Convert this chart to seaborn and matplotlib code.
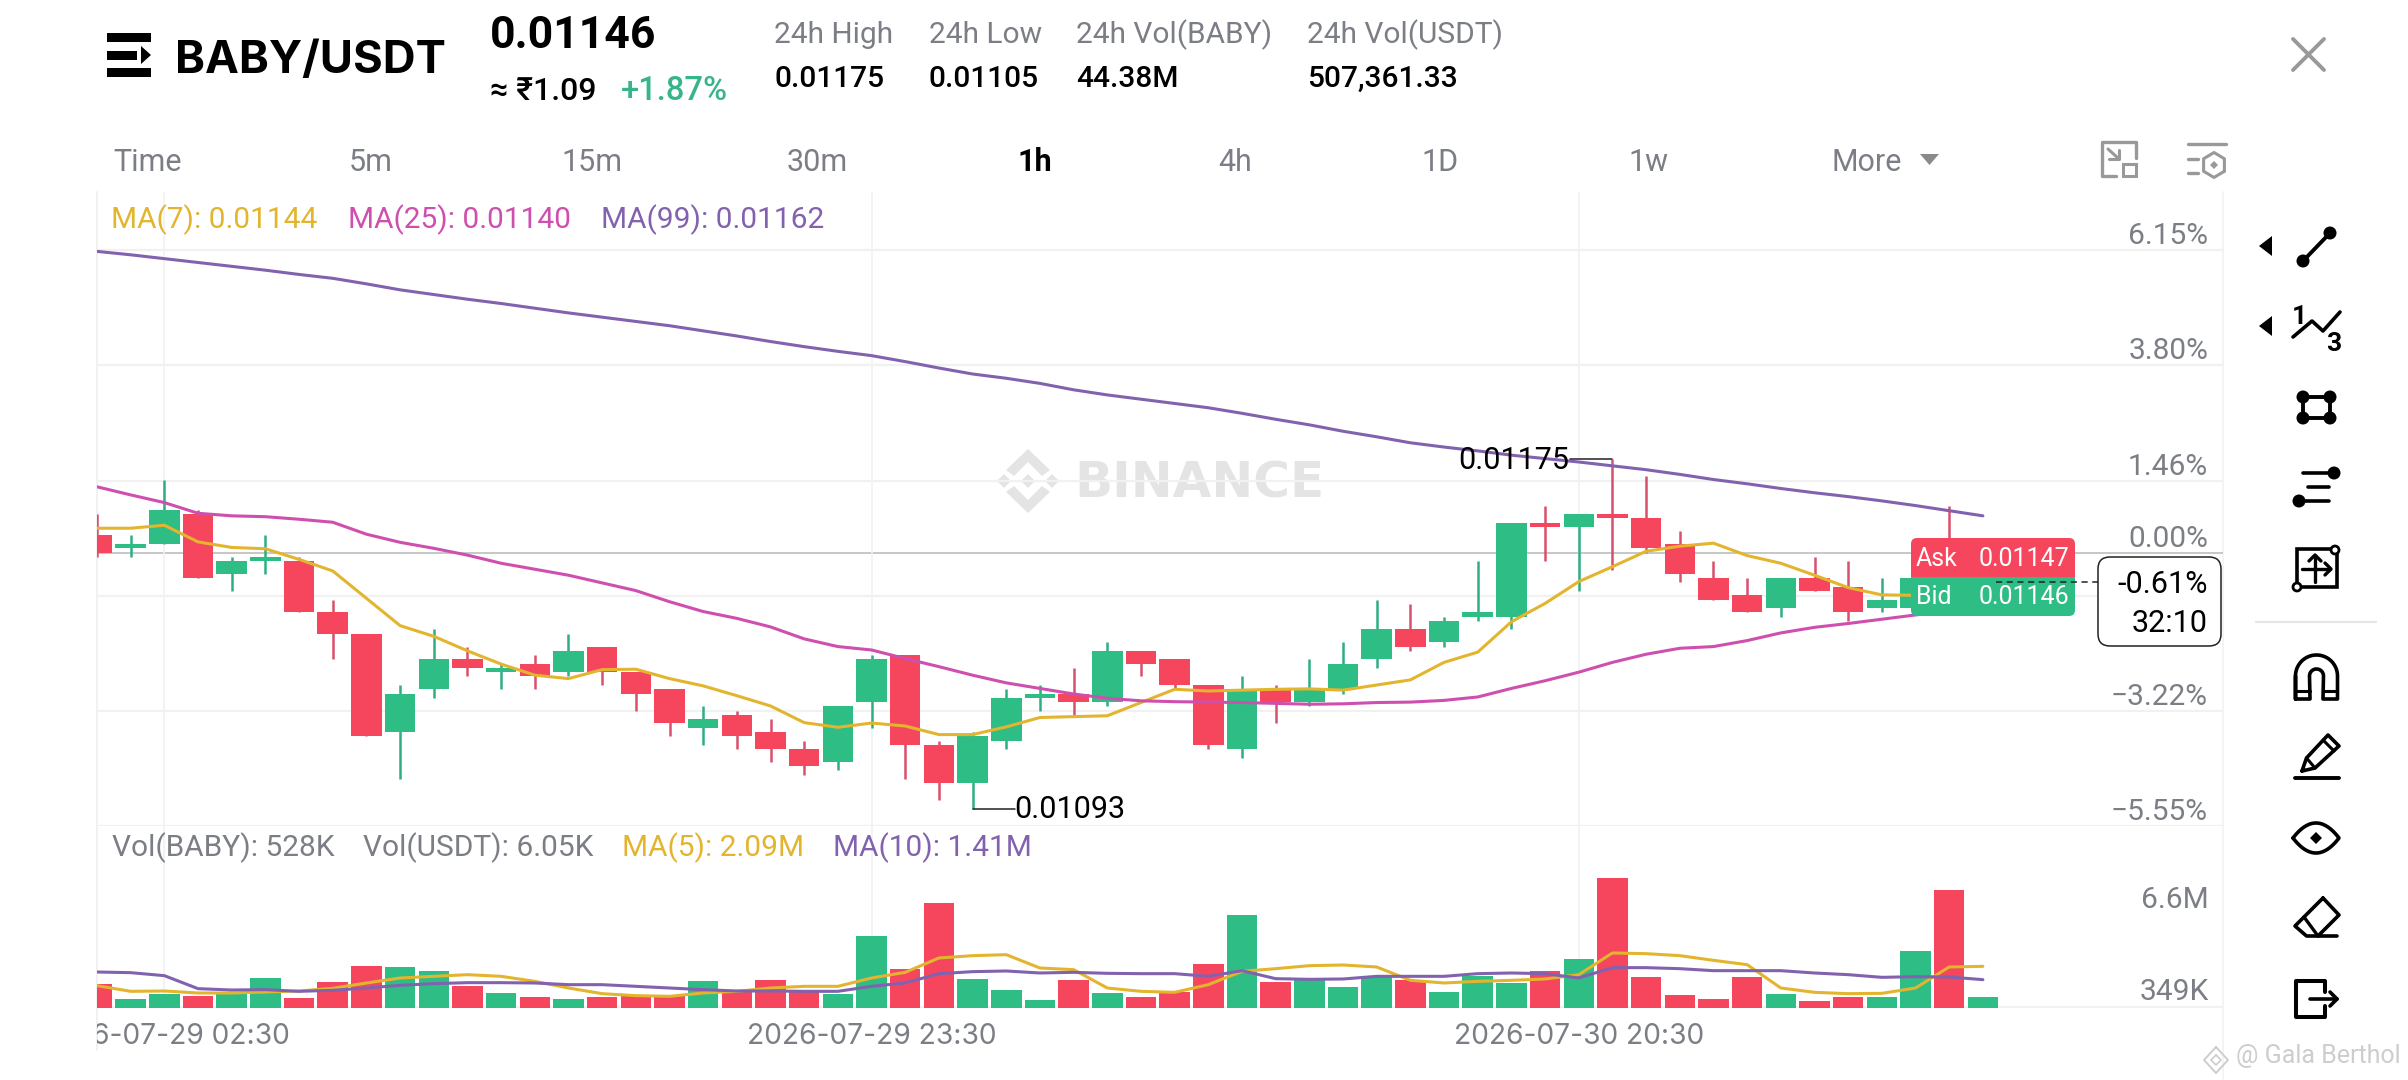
import numpy as np
import pandas as pd
import matplotlib
matplotlib.use("Agg")
import matplotlib.pyplot as plt
import seaborn as sns
from matplotlib.patches import FancyBboxPatch, Polygon, Rectangle, Circle
from matplotlib.transforms import Bbox, TransformedBbox

# ---------- data (prices in units of 0.00001 USDT, volumes in thousands) ----------
opens = [1157,1154,1155,1162,1148,1151,1151,1139,1134,1111,1121,1128,1125,1127,1125,1131,1125,1121,1112,1115,1111,1107,1104,1118,1129,1108,1099,1109,1119,1120,1118,1130,1128,1122,1107,1121,1118,1121,1128,1135,1132,1138,1138,1160,1159,1162,1161,1155,1147,1143,1140,1147,1145,1140,1140,1147,1144]
closes = [1153,1155,1163,1147,1151,1152,1139,1134,1110,1120,1128,1126,1126,1124,1130,1125,1120,1113,1114,1110,1107,1103,1117,1128,1108,1099,1110,1119,1120,1118,1130,1127,1122,1108,1121,1118,1121,1127,1135,1131,1137,1139,1160,1159,1162,1161,1154,1148,1142,1139,1147,1144,1139,1142,1147,1145,1146]
highs = [1162,1157,1170,1163,1152,1157,1152,1142,1134,1122,1135,1131,1127,1129,1134,1131,1125,1121,1117,1116,1114,1109,1117,1129,1129,1109,1111,1121,1122,1126,1132,1130,1128,1122,1124,1122,1128,1132,1142,1141,1138,1151,1160,1164,1162,1175,1171,1158,1151,1147,1147,1152,1151,1147,1147,1164,1146]
lows = [1152,1152,1155,1147,1144,1148,1139,1128,1110,1100,1119,1124,1121,1121,1124,1122,1116,1110,1108,1107,1104,1101,1102,1112,1100,1095,1093,1107,1116,1115,1117,1124,1121,1107,1105,1113,1117,1120,1126,1130,1131,1137,1135,1151,1144,1149,1153,1146,1142,1139,1138,1144,1137,1139,1139,1144,1144]
ma7 = [1158.7,1158.7,1159.4,1155.5,1154.2,1153.9,1151.4,1148.7,1142.3,1135.9,1133.4,1130.0,1126.9,1124.3,1123.5,1125.6,1125.7,1123.5,1121.8,1119.5,1117.1,1113.2,1112.1,1113.1,1112.4,1110.4,1110.4,1112.2,1114.4,1114.6,1114.8,1117.9,1121.0,1120.6,1120.8,1121.0,1121.1,1120.8,1122.0,1123.2,1127.3,1129.7,1136.8,1141.1,1146.2,1149.7,1153.3,1154.5,1155.2,1152.3,1150.5,1147.7,1144.8,1143.1,1143.0,1143.3,1144.0]
ma25 = [1168.4,1166.5,1164.7,1162.2,1161.6,1161.4,1160.8,1160.1,1157.3,1155.4,1154.0,1152.4,1150.5,1149.1,1147.7,1145.9,1144.1,1141.5,1139.2,1137.6,1135.6,1132.8,1131.0,1130.2,1128.2,1126.3,1124.3,1122.5,1121.2,1119.9,1118.9,1118.3,1118.1,1118.0,1117.9,1117.7,1117.5,1117.6,1117.9,1118.0,1118.4,1119.2,1121.2,1123.0,1125.0,1127.3,1129.2,1130.6,1131.0,1132.4,1134.2,1135.5,1136.4,1137.4,1138.4,1139.2,1140.0]
ma99 = [1223.5,1222.7,1221.8,1220.9,1220.0,1219.1,1218.1,1217.2,1215.9,1214.5,1213.4,1212.3,1211.3,1210.2,1209.1,1208.1,1207.1,1206.1,1204.9,1203.7,1202.4,1201.2,1200.1,1199.1,1197.7,1196.2,1194.8,1193.8,1192.6,1191.1,1189.9,1188.9,1187.9,1186.9,1185.6,1184.2,1182.9,1181.4,1180.1,1178.7,1177.7,1176.8,1175.8,1175.0,1174.2,1173.3,1172.4,1171.3,1170.1,1169.1,1168.0,1167.0,1166.1,1165.1,1164.0,1162.8,1161.6]
volumes = [1205,446,710,611,693,1485,512,1271,2063,2013,1815,1073,743,561,462,528,611,611,1353,776,1386,875,693,3548,1914,5214,1452,908,396,1403,759,561,809,2195,4604,1271,1403,1040,1568,1403,776,1601,1238,1832,2426,6452,1535,627,462,1518,693,363,528,528,2838,5825,528]
vol_ma5 = [1106,825,842,743,743,792,842,974,1238,1485,1568,1650,1568,1320,990,710,611,578,743,825,990,1073,1073,1485,1766,2475,2591,2640,1980,1898,990,825,776,1155,1815,1947,2096,2129,2030,1370,1238,1320,1370,1436,1650,2723,2690,2591,2360,2145,990,776,710,726,990,2030,2063]
vol_ma10 = [1782,1749,1601,957,891,908,825,875,990,1122,1205,1254,1254,1238,1155,1155,1073,990,908,842,842,825,825,1073,1238,1700,1799,1832,1733,1766,1716,1700,1700,1568,1848,1452,1419,1436,1568,1568,1568,1700,1733,1700,1485,1997,1997,1947,1848,1848,1848,1733,1650,1518,1551,1535,1403]
pct_ticks = [6.15, 3.80, 1.46, -0.88, -3.22, -5.55]
pct_labels = ["6.15%", "3.80%", "1.46%", "", "\u22123.22%", "\u22125.55%"]
pct_base = 1153
date_idx = [2, 23, 44]
date_labels = ["2026-07-29 02:30", "2026-07-29 23:30", "2026-07-30 20:30"]
high_label, low_label = "0.01175", "0.01093"
high_idx, low_idx = 45, 26
header_stats = [("24h High", "0.01175"), ("24h Low", "0.01105"), ("24h Vol(BABY)", "44.38M"), ("24h Vol(USDT)", "507,361.33")]
tabs = ["Time", "5m", "15m", "30m", "1h", "4h", "1D", "1w", "More"]

GREEN, RED = "#2EBD85", "#F6465D"
YEL, MAG, PUR = "#E3B52E", "#CE4FAE", "#8262AE"
GREY = "#7B7F85"
GRID = "#F1F1F1"

sns.set_theme(style="white")
plt.rcParams["font.family"] = ["Roboto", "Inter", "DejaVu Sans"]

W, H = 2408, 1080
fig = plt.figure(figsize=(W / 100, H / 100), dpi=100, facecolor="white")

def rect_px(x0, y0, x1, y1):
    return [x0 / W, 1 - y1 / H, (x1 - x0) / W, (y1 - y0) / H]

X0, X1 = 97, 2223
Y0, YM, YB = 192, 826, 1008
bg = fig.add_axes([0, 0, 1, 1], zorder=0)
ax = fig.add_axes(rect_px(X0, Y0, X1, YM), zorder=1)
axv = fig.add_axes(rect_px(X0, YM, X1, YB), zorder=1)
ov = fig.add_axes([0, 0, 1, 1], zorder=3)
for a in (bg, ov):
    a.set_xlim(0, W)
    a.set_ylim(H, 0)
    a.axis("off")
    a.patch.set_alpha(0)
for a in (ax, axv):
    a.patch.set_alpha(0)
    for s in a.spines.values():
        s.set_visible(False)

idx = np.arange(len(closes))
XLIM = (0, 63.13)

# ---------- background: watermark and frame ----------
WM = "#E4E4E4"
cx, cy = 1028, 481
for dx, dy, r in [(0, 0, 7), (-24, 0, 7), (24, 0, 7)]:
    bg.add_patch(Polygon([(cx + dx - r, cy + dy), (cx + dx, cy + dy - r), (cx + dx + r, cy + dy), (cx + dx, cy + dy + r)], fc=WM, ec="none"))
bg.add_patch(Polygon([(cx, cy - 32), (cx + 22, cy - 11), (cx + 14, cy - 5), (cx, cy - 19), (cx - 14, cy - 5), (cx - 22, cy - 11)], fc=WM, ec="none"))
bg.add_patch(Polygon([(cx, cy + 32), (cx + 22, cy + 11), (cx + 14, cy + 5), (cx, cy + 19), (cx - 14, cy + 5), (cx - 22, cy + 11)], fc=WM, ec="none"))
bg.text(1074, 498, "BINANCE", fontsize=36, fontweight="bold", color=WM, va="baseline", ha="left", family="DejaVu Sans")
bg.plot([X0, X0], [Y0, 1050], color=GRID, lw=1.4)
bg.plot([X1, X1], [Y0, H], color="#F4F4F4", lw=1.4)

# ---------- price pane ----------
for t in pct_ticks:
    ax.axhline(pct_base * (1 + t / 100), color=GRID, lw=1.6, zorder=1)
ax.axhline(pct_base, color="#BEBEBE", lw=1.2, zorder=1)
for i in date_idx:
    ax.axvline(i, color=GRID, lw=1.2, zorder=1)
    axv.axvline(i, color=GRID, lw=1.2, zorder=1)

up = np.array(closes) >= np.array(opens)
cols = [GREEN if u else RED for u in up]
wick_cols = ["#2FAF80" if u else "#D9506A" for u in up]
ax.vlines(idx, lows, highs, colors=wick_cols, lw=1.8, zorder=2)
ax.bar(idx, np.abs(np.array(closes) - np.array(opens)), bottom=np.minimum(opens, closes), width=0.905, color=cols, zorder=3, linewidth=0)
for vals, col in [(ma7, YEL), (ma25, MAG), (ma99, PUR)]:
    sns.lineplot(x=idx, y=vals, ax=ax, color=col, lw=2.2, zorder=4, errorbar=None)
ax.set_xlim(*XLIM)
ax.set_ylim(1089.0, 1237.4)
ax.set_xticks([])
ax.set_yticks([])
ax.set_xlabel("")
ax.set_ylabel("")
ax.plot([high_idx, high_idx - 1.27], [highs[high_idx]] * 2, color="#222222", lw=1.1, zorder=5)
ax.plot([low_idx, low_idx + 1.25], [lows[low_idx]] * 2, color="#222222", lw=1.1, zorder=5)

# ---------- volume pane ----------
df = pd.DataFrame({"i": idx, "vol": volumes, "dir": ["up" if u else "down" for u in up]})
sns.barplot(data=df, x="i", y="vol", hue="dir", palette={"up": GREEN, "down": RED}, native_scale=True,
            dodge=False, width=0.905, saturation=1, legend=False, ax=axv, linewidth=0, zorder=2)
sns.lineplot(x=idx, y=vol_ma5, ax=axv, color=YEL, lw=2.2, zorder=4, errorbar=None)
sns.lineplot(x=idx, y=vol_ma10, ax=axv, color=PUR, lw=2.2, zorder=4, errorbar=None)
axv.set_xlim(*XLIM)
axv.set_ylim(0, 9009)
axv.set_xticks([])
axv.set_yticks([])
axv.set_xlabel("")
axv.set_ylabel("")
axv.axhline(0, color=GRID, lw=3, zorder=1)

# ---------- overlay text ----------
FS = 21.5

def T(x, y, s, size=FS, color="black", weight="normal", ha="left", family=None):
    kw = {"family": family} if family else {}
    return ov.text(x, y, s, fontsize=size, color=color, fontweight=weight, ha=ha, va="baseline", **kw)

# header
ov.add_patch(Rectangle((107, 33), 44, 9, fc="black", ec="none"))
ov.add_patch(Rectangle((107, 68), 44, 9, fc="black", ec="none"))
ov.add_patch(Rectangle((107, 50.5), 30, 9, fc="black", ec="none"))
ov.add_patch(Polygon([(141, 46), (151, 55), (141, 64)], fc="black", ec="none"))
T(175, 73, "BABY/USDT", 32.7, weight="bold", family="Inter")
T(490, 48, "0.01146", 32, weight="bold")
T(490, 100, "\u2248 \u20b91.09", 23, weight="medium")
T(621, 100, "+1.87%", 23.5, color="#37B58A", weight="medium")
for (lab, val), x in zip(header_stats, [774, 929, 1076, 1307]):
    T(x, 43, lab, FS, color=GREY)
    T(x, 87, val, FS, color="black", weight="medium")
for lab, x in zip(tabs, [113, 349, 561, 787, 1018, 1218, 1421, 1628, 1831]):
    T(x, 171, lab, 22, color="black" if lab == "1h" else GREY, weight="bold" if lab == "1h" else "normal")
ov.add_patch(Polygon([(1920, 154), (1939, 154), (1929.5, 165)], fc="#8A8A8A", ec="none"))

# legends
for x, s, c in [(111, "MA(7): 0.01144", YEL), (348, "MA(25): 0.01140", MAG), (601, "MA(99): 0.01162", PUR)]:
    T(x, 228, s, FS, color=c)
for x, s, c in [(112, "Vol(BABY): 528K", GREY), (363, "Vol(USDT): 6.05K", GREY), (622, "MA(5): 2.09M", YEL), (833, "MA(10): 1.41M", PUR)]:
    T(x, 856, s, FS, color=c)

# right axis labels (above gridlines)
for t, lab in zip(pct_ticks, pct_labels):
    if lab:
        ax.annotate(lab, xy=(1, pct_base * (1 + t / 100)), xycoords=ax.get_yaxis_transform(), xytext=(-15, 6),
                    textcoords="offset pixels", ha="right", va="baseline", fontsize=FS, color=GREY, zorder=1)
ax.annotate("0.00%", xy=(1, pct_base), xycoords=ax.get_yaxis_transform(), xytext=(-15, 6),
            textcoords="offset pixels", ha="right", va="baseline", fontsize=FS, color=GREY)
T(2209, 908, "6.6M", FS, color=GREY, ha="right")
T(2209, 1000, "349K", FS, color=GREY, ha="right")

# date labels clipped at the pane's left edge
clip = TransformedBbox(Bbox([[X0, 0], [W, H]]), ov.transData)
for i, lab in zip(date_idx, date_labels):
    tx = T(97.1 + 33.67 * i, 1044, lab, 20.3, color=GREY, ha="center", family="Inter")
    tx.set_clip_on(True)
    tx.set_clip_box(clip)

# high / low annotations
T(1569, 469, high_label, 22, ha="right")
T(1014, 818, low_label, 22)

# Ask / Bid / countdown
ov.add_patch(FancyBboxPatch((1914, 541), 158, 33, boxstyle="round,pad=3,rounding_size=6", fc=RED, ec="none"))
ov.add_patch(FancyBboxPatch((1914, 581), 158, 32, boxstyle="round,pad=3,rounding_size=6", fc=GREEN, ec="none"))
ov.add_patch(Rectangle((1911, 570), 164, 8, fc=RED, ec="none"))
ov.add_patch(Rectangle((1911, 577), 164, 8, fc=GREEN, ec="none"))
T(1916, 566, "Ask", 18, color="white")
T(2069, 566, "0.01147", 18, color="white", ha="right")
T(1916, 604, "Bid", 18, color="white")
T(2069, 604, "0.01146", 18, color="white", ha="right")
ov.plot([1996, 2098], [582.3, 582.3], color="#222222", lw=1.1, dashes=(4, 3))
ov.add_patch(FancyBboxPatch((2106, 565), 107, 73, boxstyle="round,pad=8,rounding_size=12", fc="white", ec="#222222", lw=1.1))
T(2208, 593, "-0.61%", 22, ha="right")
T(2208, 632, "32:10", 22, ha="right")

# ---------- icons ----------
def L(xs, ys, color="black", lw=2.6):
    ov.plot(xs, ys, color=color, lw=lw, solid_capstyle="round", solid_joinstyle="round")

def dot(x, y, r=6.5, fc="black", ec="black", lw=0):
    ov.add_patch(Circle((x, y), r, fc=fc, ec=ec, lw=lw, zorder=5))

IG = "#999999"
L([2293, 2324], [39, 70], IG, 2.8)
L([2324, 2293], [39, 70], IG, 2.8)
L([2116, 2102, 2102, 2136, 2136], [176, 176, 142, 142, 158], IG, 2.4)
ov.add_patch(Rectangle((2123, 164), 13, 12, fc="none", ec=IG, lw=2.2))
L([2108, 2119], [149, 159], IG, 2.2)
L([2109, 2119, 2119], [159, 159, 150], IG, 2.2)
L([2188, 2226], [144, 144], IG, 2.4)
L([2188, 2198], [159, 159], IG, 2.4)
L([2188, 2198], [173, 173], IG, 2.4)
th = np.deg2rad(np.arange(30, 391, 60))
L(2214 + 12 * np.cos(th), 165 + 12.5 * np.sin(th), IG, 2.2)
ov.add_patch(Polygon([(2210, 165), (2214, 161), (2218, 165), (2214, 169)], fc=IG, ec="none"))

for yc in (246, 326):
    ov.add_patch(Polygon([(2272, yc - 10), (2272, yc + 10), (2259, yc)], fc="black", ec="none"))
# trend line
L([2303, 2330], [261, 233], lw=2.8)
dot(2303, 261)
dot(2330, 233)
# fib
L([2293, 2312, 2323, 2340], [337, 321, 331, 312], lw=2.6)
T(2292, 324, "1", 19, weight="bold")
T(2326, 351, "3", 19, weight="bold")
# rectangle
L([2303, 2330, 2330, 2303, 2303], [397, 397, 418, 418, 397], lw=2.8)
for x in (2303, 2330):
    for y in (397, 418):
        dot(x, y)
# parallel lines
L([2303, 2329], [473, 473])
dot(2334, 473)
L([2308, 2329], [487, 487])
L([2302, 2329], [501, 501])
dot(2299, 501)
# expand
ov.add_patch(Rectangle((2297, 549), 40, 38, fc="white", ec="black", lw=2.6))
for x, y in ((2335, 550), (2297, 587)):
    dot(x, y, 4, fc="white", ec="black", lw=2)
L([2315, 2315], [556, 582], lw=2.4)
L([2302, 2330], [569, 569], lw=2.4)
L([2309, 2315, 2321], [561, 555, 561], lw=2.4)
L([2325, 2331, 2325], [563, 569, 575], lw=2.4)
L([2256, 2376], [622, 622], "#E6E6E6", 1.6)
# magnet
a = np.linspace(np.pi, 2 * np.pi, 40)
L(np.r_[2295.5, 2316.5 + 21 * np.cos(a), 2337.5, 2323, 2316.5 + 7 * np.cos(a[::-1]), 2310, 2295.5, 2295.5],
  np.r_[699, 676 + 21 * np.sin(a), 699, 699, 676 + 7 * np.sin(a[::-1]), 699, 699, 676 + 21 * np.sin(a[0])], lw=2.6)
L([2296, 2310], [691, 691], lw=2.2)
L([2323, 2337], [691, 691], lw=2.2)
# pencil
L([2302, 2306.5, 2328, 2339, 2315, 2302], [771, 758, 735, 746, 768, 771], lw=2.6)
L([2306.5, 2315], [758, 768], lw=2.2)
L([2323, 2334], [740, 751], lw=2.2)
L([2295, 2339], [778, 778], lw=2.8)
# eye
t = np.linspace(-1, 1, 40)
L(np.r_[2316 + 23 * t, 2316 + 23 * t[::-1]], np.r_[838 - 15 * (1 - t ** 2), 838 + 15 * (1 - t[::-1] ** 2)], lw=2.6)
ov.add_patch(Polygon([(2310, 838), (2316, 832), (2322, 838), (2316, 844)], fc="black", ec="none"))
# eraser
L([2323, 2339, 2318, 2306.5, 2295, 2323], [898, 915, 936, 936, 926, 898], lw=2.6)
L([2304, 2318], [917, 936], lw=2.4)
L([2318, 2337], [936, 936], lw=2.6)
# exit
L([2325, 2325, 2296, 2296, 2325, 2325], [992, 981, 981, 1017, 1017, 1006], lw=2.9)
L([2310, 2337], [999, 999], lw=2.6)
L([2330, 2337, 2330], [992, 999, 1006], lw=2.6)

# credit watermark
CR = "#CDCDCD"
L([2216, 2228, 2216, 2204, 2216], [1047, 1060, 1073, 1060, 1047], CR, 1.4)
L([2216, 2221, 2216, 2211, 2216], [1055, 1060, 1065, 1060, 1055], CR, 1.2)
T(2236, 1063, "@ Gala Berthol", 18, color=CR)

fig.savefig("out.png", dpi=100, facecolor="white")
